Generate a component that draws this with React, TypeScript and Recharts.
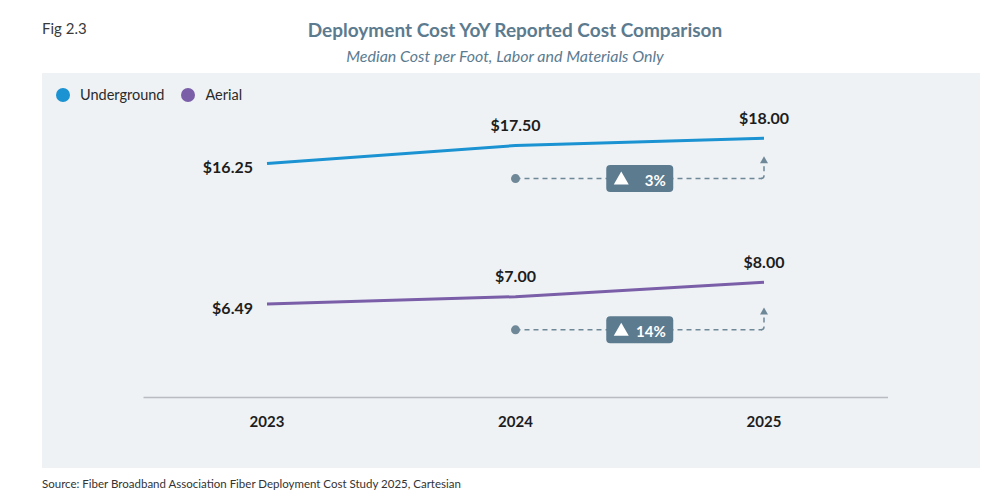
import { LineChart, Line, XAxis, YAxis, ReferenceLine, LabelList } from "recharts";

const YEARS = ["2023", "2024", "2025"];
const UNDERGROUND = [16.25, 17.5, 18.0];
const AERIAL = [6.49, 7.0, 8.0];

const SERIES = [
  { key: "underground", name: "Underground", color: "#1b92d1", values: UNDERGROUND },
  { key: "aerial", name: "Aerial", color: "#7a5ea8", values: AERIAL },
];

const data = YEARS.map((year, i) => ({
  year,
  underground: UNDERGROUND[i],
  aerial: AERIAL[i],
}));

const FONT = "Lato, 'Open Sans', sans-serif";
const SLATE = "#5c7b8f";
const DASH = "#6f8898";
const INK = "#1d1d1d";

// callout sits below the 2024 point, arrow rises toward 2025 (dollar units)
const CALLOUT_DROP = 2.3;
const ARROW_RISE = 1.55;

const ValueLabel = (props: any) => {
  const { x, y, value, index } = props;
  const text = `$${Number(value).toFixed(2)}`;
  const common = {
    fontFamily: FONT,
    fontSize: 16,
    fontWeight: 700,
    fill: INK,
    dominantBaseline: "central" as const,
  };
  if (index === 0) {
    return (
      <text x={x - 14} y={y + 3} textAnchor="end" {...common}>
        {text}
      </text>
    );
  }
  return (
    <text x={x} y={y - 21} textAnchor="middle" {...common}>
      {text}
    </text>
  );
};

const YearTick = (props: any) => {
  const { x, y, payload } = props;
  return (
    <text
      x={x}
      y={y + 15.5}
      textAnchor="middle"
      dominantBaseline="central"
      fontFamily={FONT}
      fontSize={15}
      fontWeight={700}
      fill={INK}
    >
      {payload.value}
    </text>
  );
};

const Connector = (props: any) => {
  const { x1, y1, x2, pct } = props;
  const cx = (x1 + x2) / 2;
  const w = 67;
  const h = 27;
  return (
    <g>
      <line x1={x1} y1={y1} x2={x2 - 2} y2={y1} stroke={DASH} strokeWidth={1.5} strokeDasharray="5 4" />
      <circle cx={x1} cy={y1} r={4.5} fill={DASH} />
      <rect x={cx - w / 2} y={y1 - h / 2} width={w} height={h} rx={4} fill={SLATE} />
      <polygon
        points={`${cx - 26},${y1 + 6} ${cx - 11},${y1 + 6} ${cx - 18.5},${y1 - 7}`}
        fill="#ffffff"
      />
      <text
        x={cx + 26}
        y={y1 + 1}
        textAnchor="end"
        dominantBaseline="central"
        fontFamily={FONT}
        fontSize={15}
        fontWeight={700}
        fill="#ffffff"
      >
        {`${pct}%`}
      </text>
    </g>
  );
};

const Arrow = (props: any) => {
  const { x1, y1, y2 } = props;
  return (
    <g>
      <path
        d={`M ${x1 - 3} ${y1} Q ${x1} ${y1} ${x1} ${y1 - 3} L ${x1} ${y2 + 6}`}
        fill="none"
        stroke={DASH}
        strokeWidth={1.5}
        strokeDasharray="5 4"
      />
      <polygon points={`${x1 - 4},${y2 + 7} ${x1 + 4},${y2 + 7} ${x1},${y2}`} fill={DASH} />
    </g>
  );
};

export default function App() {
  const annotations = SERIES.flatMap((s) => {
    const prev = s.values[1];
    const last = s.values[2];
    const pct = Math.round(((last - prev) / prev) * 100);
    const base = prev - CALLOUT_DROP;
    const tip = base + ARROW_RISE;
    return [
      <ReferenceLine
        key={`${s.key}-h`}
        segment={[
          { x: YEARS[1], y: base },
          { x: YEARS[2], y: base },
        ]}
        shape={(p: any) => <Connector {...p} pct={pct} />}
      />,
      <ReferenceLine
        key={`${s.key}-v`}
        segment={[
          { x: YEARS[2], y: base },
          { x: YEARS[2], y: tip },
        ]}
        shape={(p: any) => <Arrow {...p} />}
      />,
    ];
  });

  return (
    <div
      style={{
        position: "absolute",
        left: 0,
        top: 0,
        width: 992,
        height: 494,
        background: "#ffffff",
        fontFamily: FONT,
        overflow: "hidden",
      }}
    >
      <div style={{ position: "absolute", left: 42, top: 19, fontSize: 15, lineHeight: "18px", color: "#3a3a3a" }}>
        Fig 2.3
      </div>
      <div
        style={{
          position: "absolute",
          left: 40,
          width: 950,
          top: 19,
          textAlign: "center",
          fontSize: 19,
          lineHeight: "22px",
          fontWeight: 700,
          color: SLATE,
        }}
      >
        Deployment Cost YoY Reported Cost Comparison
      </div>
      <div
        style={{
          position: "absolute",
          left: 30,
          width: 950,
          top: 46,
          textAlign: "center",
          fontSize: 16,
          lineHeight: "19px",
          fontStyle: "italic",
          color: SLATE,
        }}
      >
        Median Cost per Foot, Labor and Materials Only
      </div>

      <div style={{ position: "absolute", left: 42, top: 73, width: 938, height: 395, background: "#eef2f5" }} />

      <div style={{ position: "absolute", left: 56, top: 86, display: "flex", alignItems: "center" }}>
        {SERIES.map((s) => (
          <div key={s.key} style={{ display: "flex", alignItems: "center", marginRight: 17 }}>
            <span
              style={{ width: 14, height: 14, borderRadius: 7, background: s.color, display: "inline-block", marginRight: 10 }}
            />
            <span style={{ fontSize: 14.5, lineHeight: "18px", color: "#2a2a2a" }}>{s.name}</span>
          </div>
        ))}
      </div>

      <div style={{ position: "absolute", left: 0, top: 0 }}>
        <LineChart
          width={992}
          height={494}
          data={data}
          margin={{ top: 109.5, right: 104, bottom: 66.5, left: 143.5 }}
        >
          <XAxis
            dataKey="year"
            height={30}
            axisLine={{ stroke: "#b9bdc2", strokeWidth: 1.5 }}
            tickLine={false}
            tick={<YearTick />}
            padding={{ left: 123.5, right: 124 }}
          />
          <YAxis hide domain={[0, 20]} />
          {SERIES.map((s) => (
            <Line
              key={s.key}
              type="linear"
              dataKey={s.key}
              name={s.name}
              stroke={s.color}
              strokeWidth={3}
              dot={false}
              activeDot={false}
              isAnimationActive={false}
            >
              <LabelList dataKey={s.key} content={<ValueLabel />} />
            </Line>
          ))}
          {annotations}
        </LineChart>
      </div>

      <div style={{ position: "absolute", left: 42, top: 477, fontSize: 11.5, lineHeight: "14px", color: "#333333" }}>
        Source: Fiber Broadband Association Fiber Deployment Cost Study 2025, Cartesian
      </div>
    </div>
  );
}
